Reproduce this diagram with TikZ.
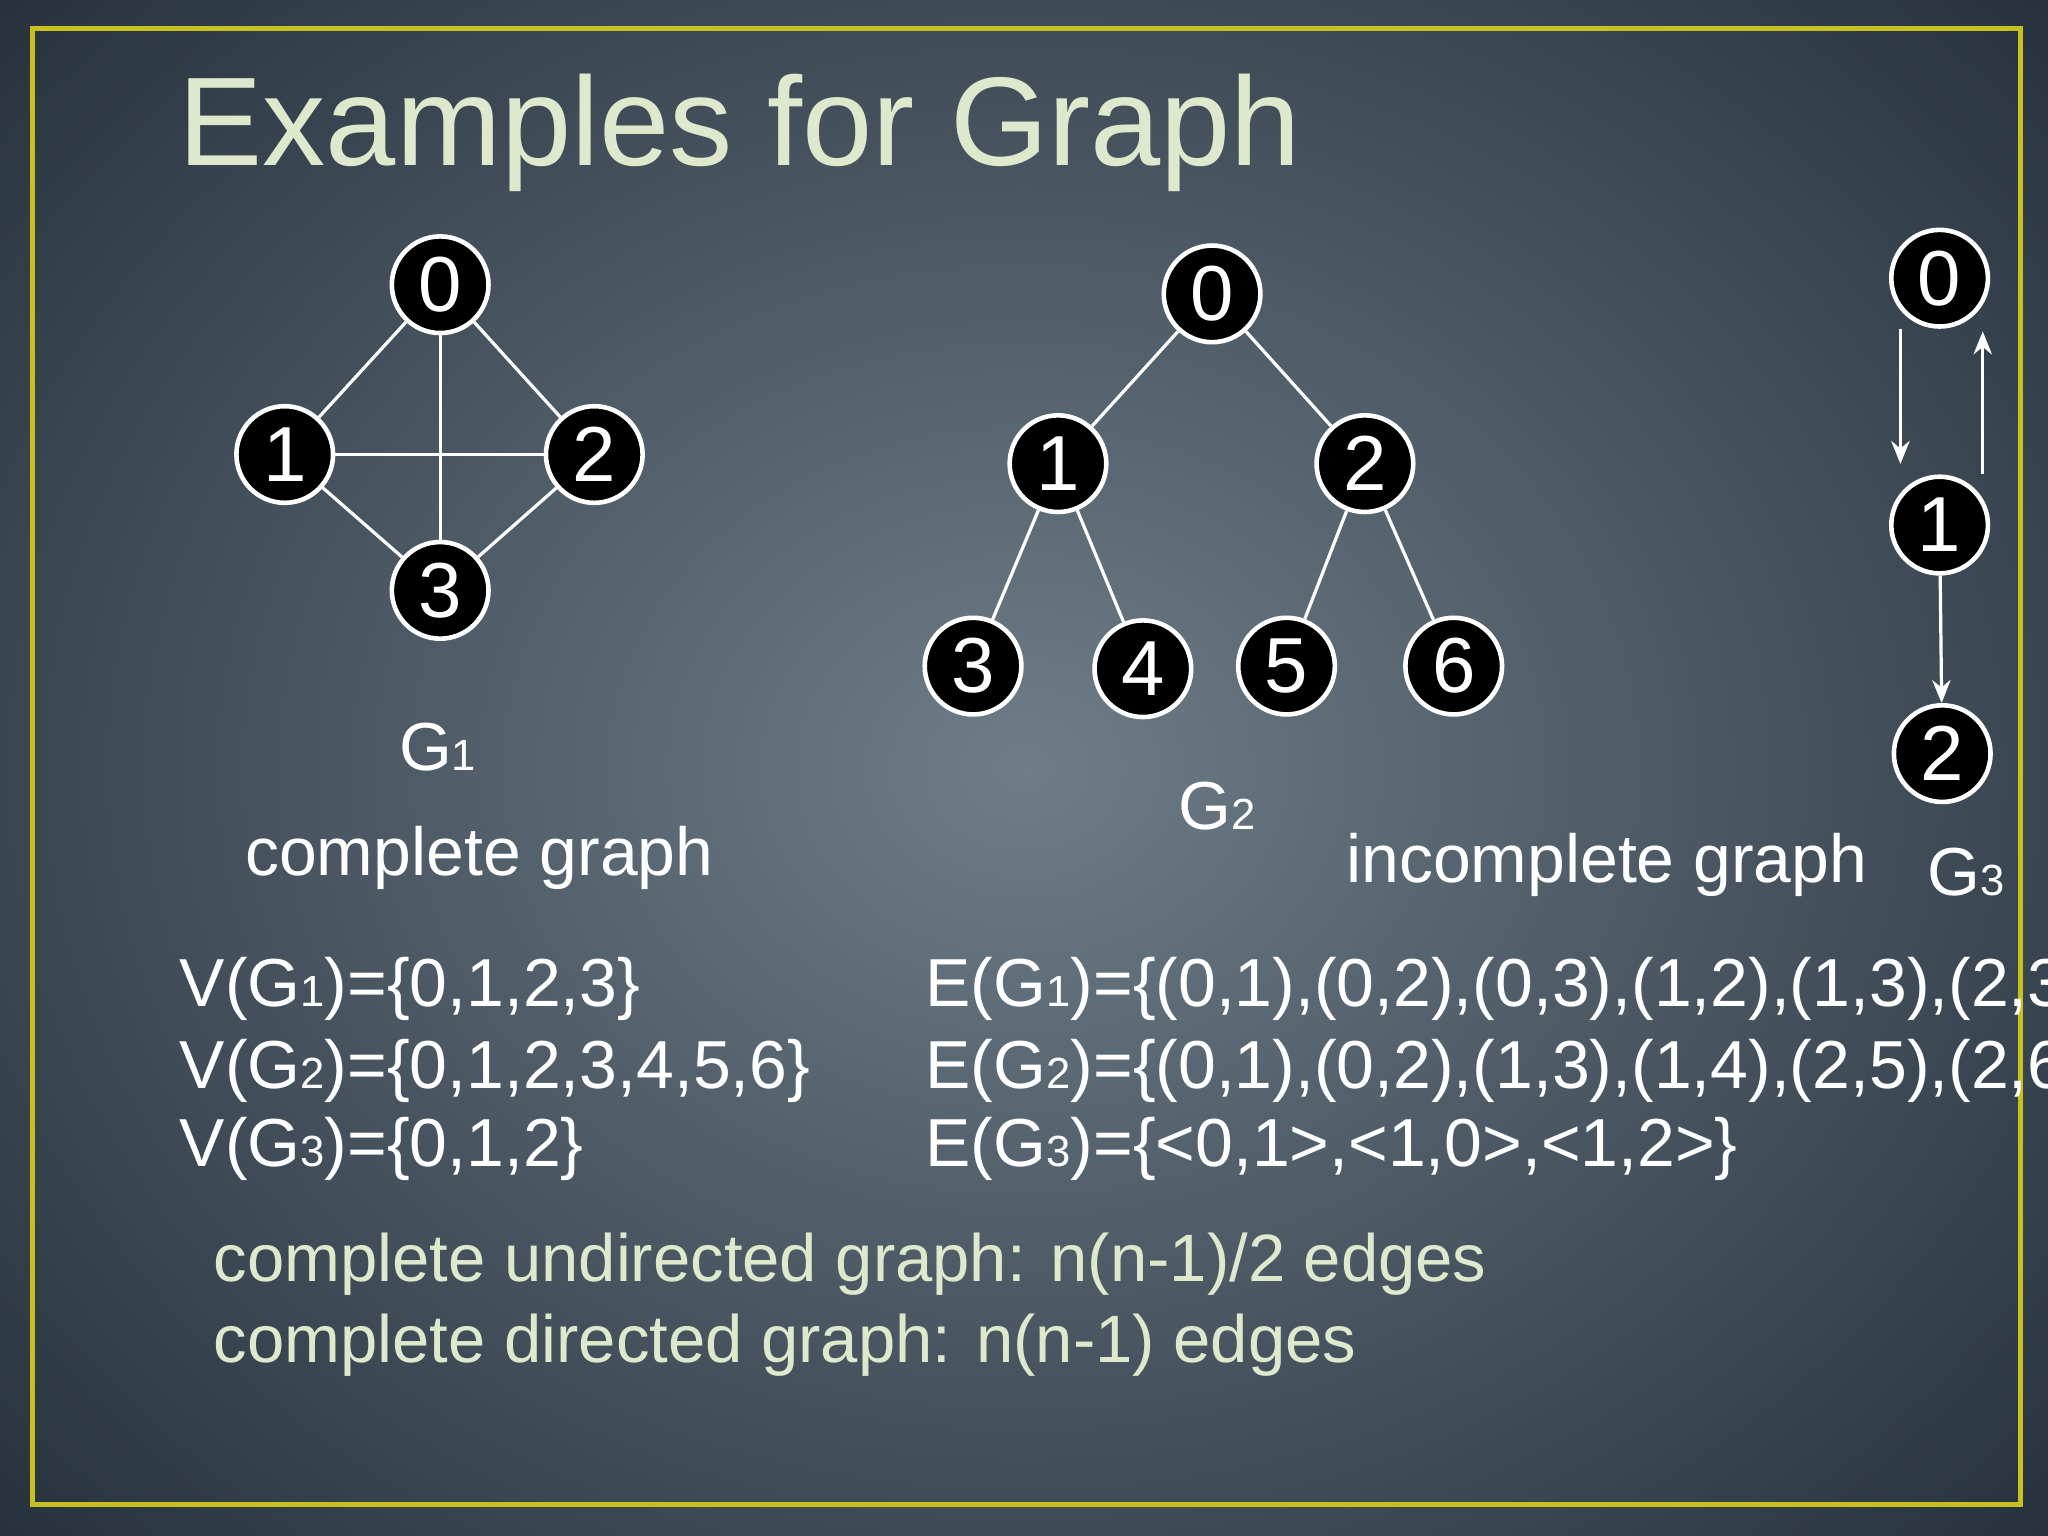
\documentclass[tikz,border=0pt]{standalone}
\usepackage{fontspec}
\setmainfont{Liberation Sans}
\usetikzlibrary{arrows.meta}
\definecolor{cream}{HTML}{DDE8CC}
\definecolor{bgin}{HTML}{6E7D88}
\definecolor{bgout}{HTML}{25303B}
\definecolor{frame}{HTML}{C8C020}
\tikzset{
 vtx/.style={circle,draw=white,fill=black,line width=1pt,minimum size=0.74cm,inner sep=0pt,text=white,font=\fontsize{17}{17}\selectfont},
 edge/.style={draw=white,line width=0.7pt},
 arr/.style={draw=white,line width=0.7pt,-{Stealth[length=5pt,width=4pt]}},
 txt/.style={text=white,font=\fontsize{14.8}{16}\selectfont,inner sep=0pt},
 ctxt/.style={text=cream,font=\fontsize{14.6}{16}\selectfont,inner sep=0pt,anchor=west}
}
\newcommand{\sbs}[1]{{\fontsize{9.5}{10}\selectfont #1}}
\begin{document}
\begin{tikzpicture}[x=1cm,y=1cm]
\useasboundingbox (0,0) rectangle (15.68,-11.76);
\clip (0,0) rectangle (15.68,-11.76);
\shade[inner color=bgin,outer color=bgout] (-3,3) rectangle (18.68,-14.76);
\draw[frame,line width=1.2pt] (0.25,-0.22) rectangle (15.47,-11.52);
\node[anchor=west,text=cream,font=\fontsize{27.5}{28}\selectfont,inner sep=0pt] (title) at (1.36,-1.02) {Examples for Graph};
% G1
\node[vtx] (a0) at (3.37,-2.18) {0};
\node[vtx] (a1) at (2.18,-3.48) {1};
\node[vtx] (a2) at (4.55,-3.48) {2};
\node[vtx] (a3) at (3.37,-4.52) {3};
\foreach \u/\v in {a0/a1,a0/a2,a0/a3,a1/a2,a1/a3,a2/a3} \draw[edge] (\u)--(\v);
\node[txt] (g1) at (3.35,-5.72) {G\sbs{1}};
\node[txt] (cg) at (3.67,-6.57) {complete graph};
% G2
\node[vtx] (b0) at (9.28,-2.25) {0};
\node[vtx] (b1) at (8.10,-3.55) {1};
\node[vtx] (b2) at (10.45,-3.55) {2};
\node[vtx] (b3) at (7.45,-5.10) {3};
\node[vtx] (b4) at (8.75,-5.12) {4};
\node[vtx] (b5) at (9.85,-5.10) {5};
\node[vtx] (b6) at (11.13,-5.10) {6};
\foreach \u/\v in {b0/b1,b0/b2,b1/b3,b1/b4,b2/b5,b2/b6} \draw[edge] (\u)--(\v);
\node[txt] (g2) at (9.32,-6.17) {G\sbs{2}};
\node[txt,anchor=west] (icg) at (10.30,-6.62) {incomplete graph};
% G3
\node[vtx] (c0) at (14.85,-2.13) {0};
\node[vtx] (c1) at (14.85,-4.02) {1};
\node[vtx] (c2) at (14.87,-5.77) {2};
\draw[arr] ([xshift=-0.30cm]c0.south) -- ([xshift=-0.30cm,yshift=0.08cm]c1.north);
\draw[arr] ([xshift=0.33cm]c1.north) -- ([xshift=0.33cm,yshift=-0.02cm]c0.south);
\draw[arr] (c1) -- (c2);
\node[txt] (g3) at (15.05,-6.68) {G\sbs{3}};
% sets
\node[txt,anchor=west] (v1) at (1.37,-7.57) {V(G\sbs{1})=\{0,1,2,3\}};
\node[txt,anchor=west] (v2) at (1.37,-8.20) {V(G\sbs{2})=\{0,1,2,3,4,5,6\}};
\node[txt,anchor=west] (v3) at (1.37,-8.80) {V(G\sbs{3})=\{0,1,2\}};
\node[txt,anchor=west] (e1) at (7.08,-7.57) {E(G\sbs{1})=\{(0,1),(0,2),(0,3),(1,2),(1,3),(2,3)\}};
\node[txt,anchor=west] (e2) at (7.08,-8.20) {E(G\sbs{2})=\{(0,1),(0,2),(1,3),(1,4),(2,5),(2,6)\}};
\node[txt,anchor=west] (e3) at (7.08,-8.80) {E(G\sbs{3})=\{<0,1>,<1,0>,<1,2>\}};
\node[ctxt] (u1) at (1.63,-9.68) {complete undirected graph: n(n-1)/2 edges};
\node[ctxt] (u2) at (1.63,-10.30) {complete directed graph: n(n-1) edges};
\end{tikzpicture}
\end{document}
